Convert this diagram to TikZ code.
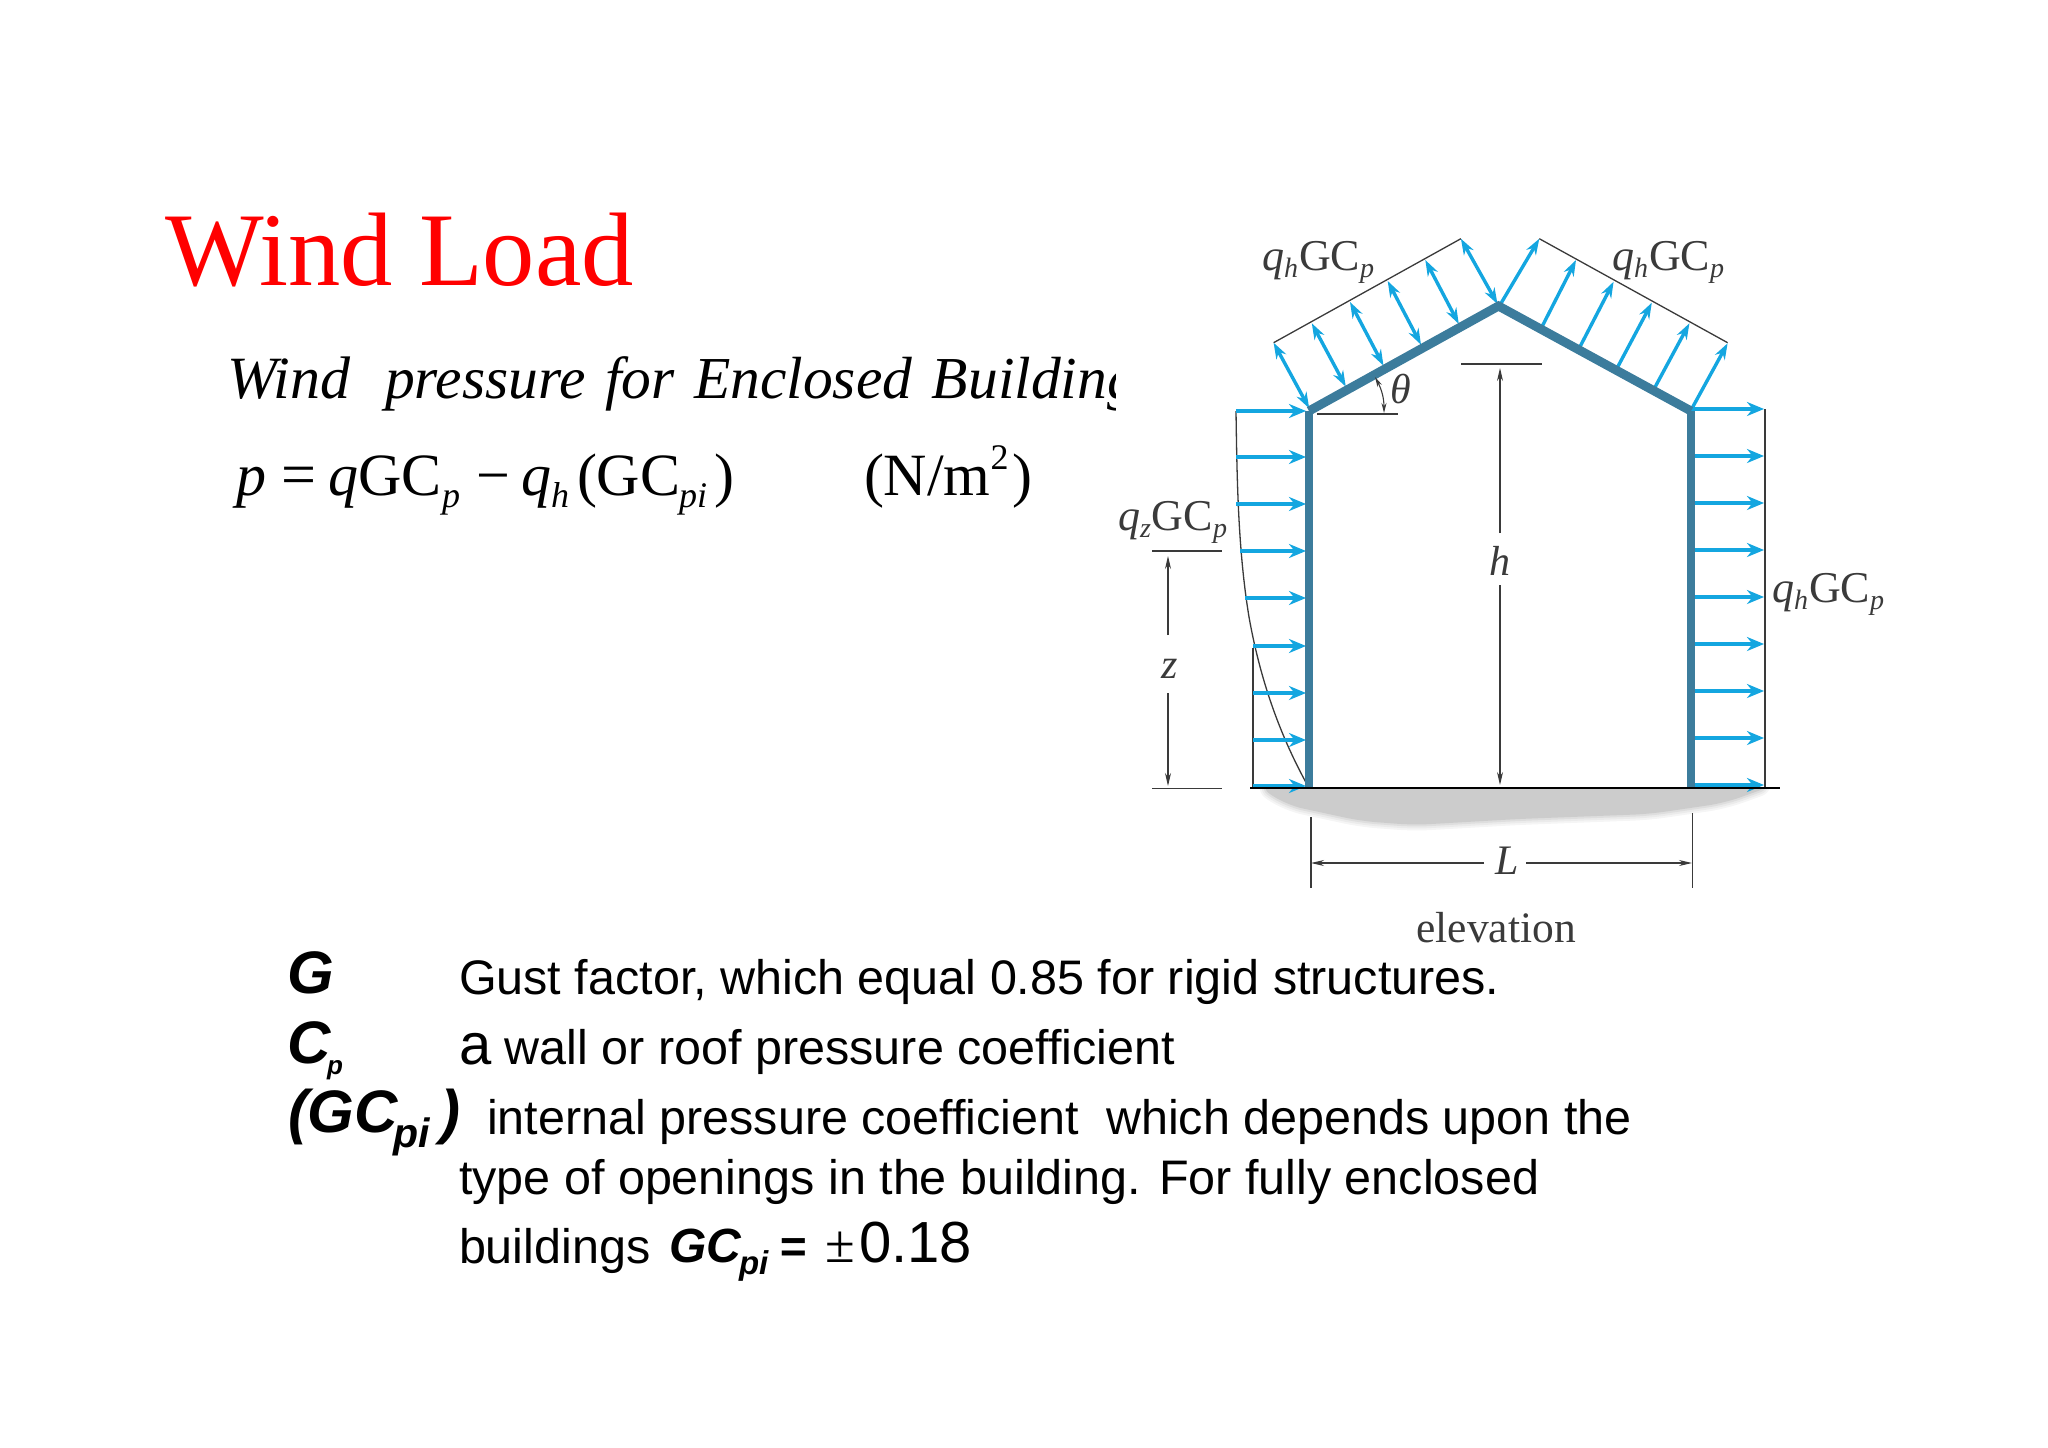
\documentclass[tikz,border=0pt]{standalone}
\usepackage{fontspec}
\setmainfont{Liberation Serif}
\newfontfamily\arialfont{Liberation Sans}
\usepackage{xcolor}
\usetikzlibrary{
	arrows.meta,
	calc,
	positioning
}
\definecolor{WindBlue}{HTML}{14A6E0}
\definecolor{WallTeal}{HTML}{3C7C9C}
\definecolor{DimGray}{HTML}{3A3A3A}
\tikzset{
	txt/.style={anchor=base west,inner sep=0pt,outer sep=0pt},
	fig/.style={txt,text=DimGray},
	dim/.style={DimGray,line width=1.1pt},
	dimArrow/.style={dim,-{Stealth[length=13pt,width=6pt]}},
	wall/.style={WallTeal,line width=7.5pt},
	roof/.style={WallTeal,line width=9pt,line join=miter},
	wallLoad/.style={WindBlue,line width=4.8pt,-{Stealth[length=17pt,width=14pt]}},
	roofIn/.style={WindBlue,line width=3.4pt,{Stealth[length=16pt,width=11pt]}-{Stealth[length=16pt,width=11pt]}},
	roofOut/.style={WindBlue,line width=3.4pt,-{Stealth[length=16pt,width=11pt]}},
	shade/.style={line join=round,rounded corners=16pt}
}
\newcommand{\tikzSize}[1]{\fontsize{#1}{#1}\selectfont}
\newcommand{\tikzText}[4][]{\node (#4) at #2 [txt,#1]{#3};}
\newcommand{\tikzForce}[4][]{\coordinate (#4a) at #2; \coordinate (#4b) at #3; \draw[#1] (#4a) -- (#4b);}
\newcommand{\tikzPressure}[1]{\textit{q}\raisebox{-0.16em}{\tikzSize{28}\textit{#1}}\kern1pt GC\raisebox{-0.16em}{\tikzSize{28}\textit{p}}}
\newcommand{\tikzBold}{\arialfont\bfseries\itshape}

\begin{document}
\begin{tikzpicture}[x=1pt,y=-1pt,line width=1.3pt]
	\useasboundingbox (0,0) rectangle (2048,1448);

	% Text on the left
	\tikzText[text=red]{(165,285)}{\tikzSize{104.5}Wind Load}{title}
	\begin{scope}
		\clip (200,340) rectangle (1115,430);
		\tikzText{(227,398)}{\tikzSize{60}\textit{Wind}}{windA}
		\tikzText{(385,398)}{\tikzSize{59.5}\spaceskip=0.33em\textit{pressure for Enclosed Building}}{windB}
	\end{scope}

	% Pressure formula
	\tikzText{(236,495)}{\tikzSize{60}\textit{p}}{eqP}
	\tikzText{(281,495)}{\tikzSize{62}=}{eqEq}
	\tikzText{(328,495)}{\tikzSize{60}\textit{q}GC}{eqQ}
	\tikzText{(442,507)}{\tikzSize{36}\textit{p}}{eqSubP}
	\tikzText{(476,495)}{\tikzSize{60}\symbol{"2212}}{eqMinus}
	\tikzText{(521,495)}{\tikzSize{60}\textit{q}}{eqQh}
	\tikzText{(551,507)}{\tikzSize{36}\textit{h}}{eqSubH}
	\tikzText{(577,495)}{\tikzSize{60}(GC}{eqGC}
	\tikzText{(679,507)}{\tikzSize{36}\textit{pi}}{eqSubPi}
	\tikzText{(714,495)}{\tikzSize{60})}{eqClose}
	\tikzText{(864,495)}{\tikzSize{60}(N/m\raisebox{0.42em}{\tikzSize{36}2}\kern4pt)}{eqUnit}

	% Ground shade
	\begin{scope}
		\clip (1240,789) rectangle (1790,840);
		\path (1258,785) coordinate (g1) (1287,804) coordinate (g2) (1361,820) coordinate (g3)
			(1414,824) coordinate (g4) (1518,818) coordinate (g5) (1649,813) coordinate (g6)
			(1724,802) coordinate (g7) (1772,785) coordinate (g8);
		\draw[gray!8,fill=gray!8,line width=14pt,shade] (g1) -- (g2) -- (g3) -- (g4) -- (g5) -- (g6) -- (g7) -- (g8) -- cycle;
		\draw[gray!16,fill=gray!16,line width=10pt,shade] (g1) -- (g2) -- (g3) -- (g4) -- (g5) -- (g6) -- (g7) -- (g8) -- cycle;
		\draw[gray!26,fill=gray!26,line width=6pt,shade] (g1) -- (g2) -- (g3) -- (g4) -- (g5) -- (g6) -- (g7) -- (g8) -- cycle;
		\draw[gray!40,fill=gray!40,line width=2pt,shade] (g1) -- (g2) -- (g3) -- (g4) -- (g5) -- (g6) -- (g7) -- (g8) -- cycle;
	\end{scope}

	% Outline of the pressures
	\coordinate (topL) at (1236,411);
	\coordinate (footL) at (1253,648);
	\coordinate (baseL) at (1253,788);
	\coordinate (eaveL) at (1309,411);
	\coordinate (peak) at (1498.5,306);
	\coordinate (eaveR) at (1691,411);
	\coordinate (wallL) at (1309,788);
	\coordinate (wallR) at (1691,788);
	\coordinate (topR) at (1765,409);
	\coordinate (baseR) at (1765,788);
	\coordinate (roofA) at (1273.6,342.7);
	\coordinate (roofB) at (1460.9,238.7);
	\coordinate (roofC) at (1539.3,238.7);
	\coordinate (roofD) at (1727.6,342.7);
	\draw[DimGray] (roofA) -- (roofB);
	\draw[DimGray] (roofC) -- (roofD);
	\draw[DimGray] (topR) -- (baseR);
	\draw[DimGray] (footL) -- (baseL);
	\draw[DimGray] (topL) .. controls (1237,480) and (1238,550) .. (1249,617) .. controls (1262,690) and (1285,745) .. (wallL);

	% Windward wall
	\tikzForce[wallLoad]{(1236,411)}{(1306,411)}{la}
	\tikzForce[wallLoad]{(1236,457)}{(1306,457)}{lb}
	\tikzForce[wallLoad]{(1236,504)}{(1306,504)}{lc}
	\tikzForce[wallLoad]{(1240,551)}{(1306,551)}{ld}
	\tikzForce[wallLoad]{(1245,598)}{(1306,598)}{le}
	\tikzForce[wallLoad]{(1253,646)}{(1306,646)}{lf}
	\tikzForce[wallLoad]{(1253,693)}{(1306,693)}{lg}
	\tikzForce[wallLoad]{(1253,740)}{(1306,740)}{lh}
	\tikzForce[wallLoad]{(1253,786)}{(1306,786)}{li}

	% Leeward wall
	\tikzForce[wallLoad]{(1691,409)}{(1764,409)}{ra}
	\tikzForce[wallLoad]{(1691,456)}{(1764,456)}{rb}
	\tikzForce[wallLoad]{(1691,503)}{(1764,503)}{rc}
	\tikzForce[wallLoad]{(1691,550)}{(1764,550)}{rd}
	\tikzForce[wallLoad]{(1691,597)}{(1764,597)}{re}
	\tikzForce[wallLoad]{(1691,644)}{(1764,644)}{rf}
	\tikzForce[wallLoad]{(1691,691)}{(1764,691)}{rg}
	\tikzForce[wallLoad]{(1691,738)}{(1764,738)}{rh}
	\tikzForce[wallLoad]{(1691,785)}{(1764,785)}{ri}

	% Roof, windward side
	\tikzForce[roofIn]{(1273.6,342.7)}{(1309.2,408.3)}{ua}
	\tikzForce[roofIn]{(1311.8,323.3)}{(1345.8,386.7)}{ub}
	\tikzForce[roofIn]{(1350,302)}{(1383.5,365.7)}{uc}
	\tikzForce[roofIn]{(1387.7,281)}{(1421,344.7)}{ud}
	\tikzForce[roofIn]{(1425.3,260)}{(1458.8,324)}{ue}
	\tikzForce[roofIn]{(1460.9,238.7)}{(1497.5,304)}{uf}

	% Roof, leeward side
	\tikzForce[roofOut]{(1500,305)}{(1539.3,238.7)}{va}
	\tikzForce[roofOut]{(1542,326.7)}{(1576,260)}{vb}
	\tikzForce[roofOut]{(1580,346.7)}{(1613.6,281.7)}{vc}
	\tikzForce[roofOut]{(1617.8,366.7)}{(1651.8,302.7)}{vd}
	\tikzForce[roofOut]{(1654.4,388.3)}{(1689.4,323.3)}{ve}
	\tikzForce[roofOut]{(1692,408.3)}{(1727.6,343.3)}{vf}

	% Building
	\draw[wall] (wallL) -- (eaveL);
	\draw[wall] (wallR) -- (eaveR);
	\draw[roof] (eaveL) -- (peak) -- (eaveR);
	\draw[black,line width=2.4pt] (1250,788) coordinate (gndA) -- (1780,788) coordinate (gndB);

	% Dimensions
	\draw[dim] (1317,414) coordinate (thA) -- (1398,414) coordinate (thB);
	\coordinate (thC) at (1375,377);
	\coordinate (thD) at (1384,413);
	\draw[dim,{Stealth[length=10pt,width=5pt]}-{Stealth[length=10pt,width=5pt]}] (thC) to[bend left=14] (thD);
	\draw[dim] (1461,364) coordinate (hA) -- (1542,364) coordinate (hB);
	\node (hLabel) at (1500,561) [fig,anchor=center]{\tikzSize{42}\textit{h}};
	\draw[dimArrow] (1500,533) coordinate (hC) -- (1500,368) coordinate (hD);
	\draw[dimArrow] (1500,585) coordinate (hE) -- (1500,785) coordinate (hF);
	\draw[dim] (1152,551) coordinate (zA) -- (1222,551) coordinate (zB);
	\draw[dim] (1152,788.5) coordinate (zC) -- (1222,788.5) coordinate (zD);
	\node (zLabel) at (1170,669) [fig,anchor=center]{\tikzSize{42}\textit{z}};
	\draw[dimArrow] (1168,635) coordinate (zE) -- (1168,556) coordinate (zF);
	\draw[dimArrow] (1168,693) coordinate (zG) -- (1168,786) coordinate (zH);
	\draw[dim] (1311,817) coordinate (lA) -- (1311,888) coordinate (lB);
	\draw[dim] (1692.5,813) coordinate (lC) -- (1692.5,888) coordinate (lD);
	\node (lLabel) at (1507,861) [fig,anchor=center]{\tikzSize{42}\textit{L}};
	\draw[dimArrow] (1484,863) coordinate (lE) -- (1311,863) coordinate (lF);
	\draw[dimArrow] (1526,863) coordinate (lG) -- (1692,863) coordinate (lH);

	% Figure labels
	\tikzText[fig]{(1262,270)}{\tikzSize{44}\tikzPressure{h}}{qRoofL}
	\tikzText[fig]{(1612,270)}{\tikzSize{44}\tikzPressure{h}}{qRoofR}
	\tikzText[fig]{(1118,530)}{\tikzSize{44}\tikzPressure{z}}{qWallL}
	\tikzText[fig]{(1772,602)}{\tikzSize{44}\tikzPressure{h}}{qWallR}
	\tikzText[fig]{(1390,403)}{\tikzSize{42}\textit{\symbol{"03B8}}}{theta}
	\node (elevation) at (1496,928) [fig,anchor=center]{\tikzSize{43.5}elevation};

	% Symbols
	\tikzText{(287,993)}{\tikzSize{60}\tikzBold G}{symG}
	\tikzText{(459,994.5)}{\tikzSize{48.5}\arialfont Gust factor, which equal 0.85 for rigid structures.}{descG}
	\tikzText{(287,1063)}{\tikzSize{60}\tikzBold C}{symC}
	\tikzText{(327,1074)}{\tikzSize{26}\tikzBold p}{symCp}
	\tikzText{(459,1064.5)}{\arialfont\tikzSize{58}a\tikzSize{48.5} wall or roof pressure coefficient}{descC}
	\tikzText{(288,1132)}{\tikzSize{60}\tikzBold(GC}{symGCpi}
	\tikzText{(393,1147)}{\tikzSize{41}\tikzBold pi}{symPi}
	\tikzText{(440,1132)}{\tikzSize{60}\tikzBold)}{symClose}
	\tikzText{(487,1134.5)}{\tikzSize{48.5}\arialfont internal pressure coefficient\ \ which depends upon the}{descA}
	\tikzText{(459,1194.5)}{\tikzSize{48.5}\arialfont type of openings in the building. For fully enclosed}{descB}
	\tikzText{(459,1263)}{\tikzSize{48.5}\arialfont buildings}{descD}
	\tikzText{(669,1262)}{\tikzSize{48}\tikzBold GC}{valGC}
	\tikzText{(739,1274)}{\tikzSize{33}\tikzBold pi}{valPi}
	\tikzText{(779,1262)}{\tikzSize{46}\tikzBold=}{valEq}
	\tikzText{(825,1262)}{\tikzSize{54}\symbol{"00B1}}{valPm}
	\tikzText{(859,1262)}{\tikzSize{58}\arialfont 0.18}{valNum}
\end{tikzpicture}
\end{document}
